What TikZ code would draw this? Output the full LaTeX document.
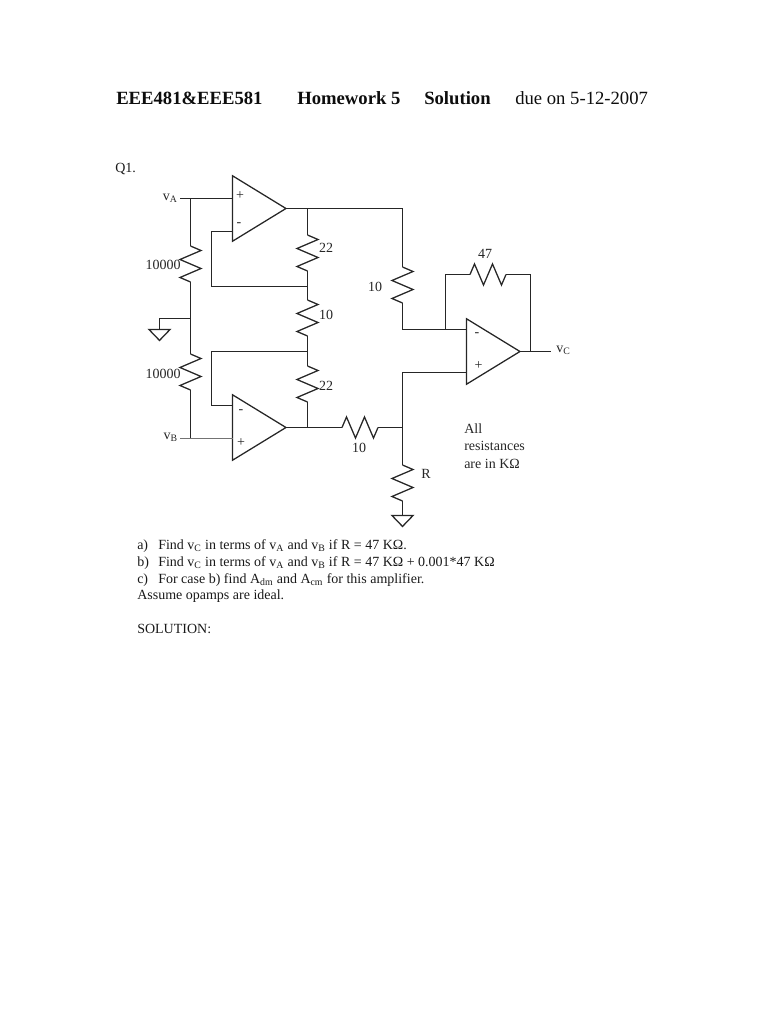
\documentclass[tikz,border=0pt]{standalone}
\usepackage{fontspec}
\setmainfont{Liberation Serif}
\usepackage{tikz}
\usetikzlibrary{shapes.geometric,calc,decorations.pathmorphing}

\begin{document}
\begin{tikzpicture}[x=0.75pt,y=-0.75pt]
\tikzstyle{wire}=[line width=0.95pt,black!85]
\tikzstyle{lightwire}=[line width=0.95pt,black!55]
\tikzstyle{resistor}=[wire,decorate,decoration={zigzag,segment length=13.5pt,amplitude=7.9pt}]
\tikzstyle{opamp}=[draw,wire,shape=isosceles triangle,isosceles triangle apex angle=63,isosceles triangle stretches,minimum width=49.1pt,minimum height=40.1pt,inner sep=0pt,outer sep=0pt,anchor=lower side]
\tikzstyle{ground}=[draw,wire,shape=isosceles triangle,isosceles triangle apex angle=87,shape border rotate=-90,isosceles triangle stretches,minimum width=15.8pt,minimum height=8.2pt,inner sep=0pt,outer sep=0pt,anchor=lower side]
\tikzstyle{label}=[font=\fontsize{10.5pt}{12pt}\selectfont,inner sep=0pt,black!85]
\tikzstyle{body}=[font=\fontsize{10.5pt}{12pt}\selectfont,inner sep=0pt,anchor=base west,black!90]
\tikzstyle{heading}=[font=\fontsize{14pt}{16pt}\selectfont,inner sep=0pt,anchor=base west,black!95]

\useasboundingbox (0,0) rectangle (768,1024);

\node [heading] (title1) at (116,104) {\textbf{EEE481\&EEE581}};
\node [heading] (title2) at (297,104) {\textbf{Homework 5}};
\node [heading] (title3) at (424,104) {\textbf{Solution}};
\node [heading] (title4) at (515,104) {due on 5-12-2007};
\node [body] (q1) at (115,172) {Q1.};

\node [opamp] (opA) at (232.5,208.5) {};
\node [opamp] (opB) at (232.5,427.5) {};
\node [opamp] (opC) at (466.5,351.5) {};
\node [label] (opAp) at (240,196) {+};
\node [label] (opAm) at (239,224.5) {-};
\node [label] (opBm) at (241,412) {-};
\node [label] (opBp) at (241,443) {+};
\node [label] (opCm) at (477,335) {-};
\node [label] (opCp) at (478.5,366) {+};

\coordinate (vAend) at (180,198.5);
\coordinate (vAj) at (190.5,198.5);
\coordinate (R1a) at (190.5,246);
\coordinate (R1b) at (190.5,282);
\coordinate (gndj) at (190.5,318.5);
\coordinate (R2a) at (190.5,354);
\coordinate (R2b) at (190.5,390);
\coordinate (vBj) at (190.5,438.5);
\coordinate (vBend) at (180,438.5);
\coordinate (gndL) at (159.5,318.5);

\node [ground] (gnd1) at (159.5,329.5) {};
\node [ground] (gnd2) at (402.5,515.5) {};

\draw [wire] (vAend) -- (vAend -| opA.lower side);
\draw [wire] (vAj) -- (R1a);
\draw [resistor] (R1a) -- (R1b);
\draw [wire] (R1b) -- (R2a);
\draw [resistor] (R2a) -- (R2b);
\draw [wire] (R2b) -- (vBj);
\draw [lightwire] (vBend) -- (vBend -| opB.lower side);
\draw [wire] (gndj) -- (gndL) -- (gnd1.lower side);

\coordinate (Aout) at (307.5,208.5);
\coordinate (R3a) at (307.5,235);
\coordinate (R3b) at (307.5,271);
\coordinate (Afb) at (307.5,286.5);
\coordinate (R4a) at (307.5,300);
\coordinate (R4b) at (307.5,336);
\coordinate (Bfb) at (307.5,351.5);
\coordinate (R5a) at (307.5,366);
\coordinate (R5b) at (307.5,402);
\coordinate (Bout) at (307.5,427.5);
\coordinate (AfbL) at (211.5,286.5);
\coordinate (BfbL) at (211.5,351.5);
\coordinate (Amin) at (211.5,231.5);
\coordinate (Bmin) at (211.5,405.5);

\draw [wire] (opA.apex) -- (Aout) -- (R3a);
\draw [resistor] (R3a) -- (R3b);
\draw [wire] (R3b) -- (R4a);
\draw [resistor] (R4a) -- (R4b);
\draw [wire] (R4b) -- (R5a);
\draw [resistor] (R5a) -- (R5b);
\draw [wire] (R5b) -- (Bout);
\draw [wire] (Afb) -- (AfbL) -- (Amin) -- (Amin -| opA.lower side);
\draw [wire] (Bfb) -- (BfbL) -- (Bmin) -- (Bmin -| opB.lower side);

\coordinate (Ctop) at (402.5,208.5);
\coordinate (R6a) at (402.5,267);
\coordinate (R6b) at (402.5,303);
\coordinate (Cmin) at (402.5,329.5);
\coordinate (Cfb) at (445.5,329.5);
\coordinate (CfbT) at (445.5,274.5);
\coordinate (R7a) at (470,274.5);
\coordinate (R7b) at (506,274.5);
\coordinate (CfbR) at (530.5,274.5);
\coordinate (Cout) at (530.5,351.5);
\coordinate (vCend) at (551,351.5);
\coordinate (Cplus) at (402.5,372.5);
\coordinate (R8a) at (342,427.5);
\coordinate (R8b) at (378,427.5);
\coordinate (Bj) at (402.5,427.5);
\coordinate (R9a) at (402.5,465);
\coordinate (R9b) at (402.5,501);

\draw [wire] (opA.apex) -- (Ctop) -- (R6a);
\draw [resistor] (R6a) -- (R6b);
\draw [wire] (R6b) -- (Cmin) -- (Cmin -| opC.lower side);
\draw [wire] (Cfb) -- (CfbT) -- (R7a);
\draw [resistor] (R7a) -- (R7b);
\draw [wire] (R7b) -- (CfbR) -- (Cout);
\draw [wire] (opC.apex) -- (vCend);
\draw [wire] (Cplus -| opC.lower side) -- (Cplus) -- (Bj);
\draw [wire] (opB.apex) -- (R8a);
\draw [resistor] (R8a) -- (R8b);
\draw [wire] (R8b) -- (Bj) -- (R9a);
\draw [resistor] (R9a) -- (R9b);
\draw [wire] (R9b) -- (gnd2.lower side);

\node [label,anchor=east] (vA) at (178,198) {v\textsubscript{A}};
\node [label,anchor=east] (vB) at (178,437) {v\textsubscript{B}};
\node [label,anchor=west] (vC) at (556,350) {v\textsubscript{C}};
\node [label] (R1lab) at (163,265) {10000};
\node [label] (R2lab) at (163,374) {10000};
\node [label] (R3lab) at (326,248) {22};
\node [label] (R4lab) at (326,315) {10};
\node [label] (R5lab) at (326,386) {22};
\node [label] (R6lab) at (375,287) {10};
\node [label] (R7lab) at (485,254) {47};
\node [label] (R8lab) at (359,448) {10};
\node [label] (R9lab) at (426,474) {R};
\node [label,anchor=base west] (note1) at (464,433) {All};
\node [label,anchor=base west] (note2) at (464,450) {resistances};
\node [label,anchor=base west] (note3) at (464,468) {are in KΩ};

\node [body] (qa) at (137,549) {a)};
\node [body] (qatext) at (158,549) {Find v\textsubscript{C} in terms of v\textsubscript{A} and v\textsubscript{B} if R = 47 KΩ.};
\node [body] (qb) at (137,566) {b)};
\node [body] (qbtext) at (158,566) {Find v\textsubscript{C} in terms of v\textsubscript{A} and v\textsubscript{B} if R = 47 KΩ + 0.001*47 KΩ};
\node [body] (qc) at (137,583) {c)};
\node [body] (qctext) at (158,583) {For case b) find A\textsubscript{dm} and A\textsubscript{cm} for this amplifier.};
\node [body] (qd) at (137,599) {Assume opamps are ideal.};
\node [body] (sol) at (137,633) {SOLUTION:};
\end{tikzpicture}
\end{document}
